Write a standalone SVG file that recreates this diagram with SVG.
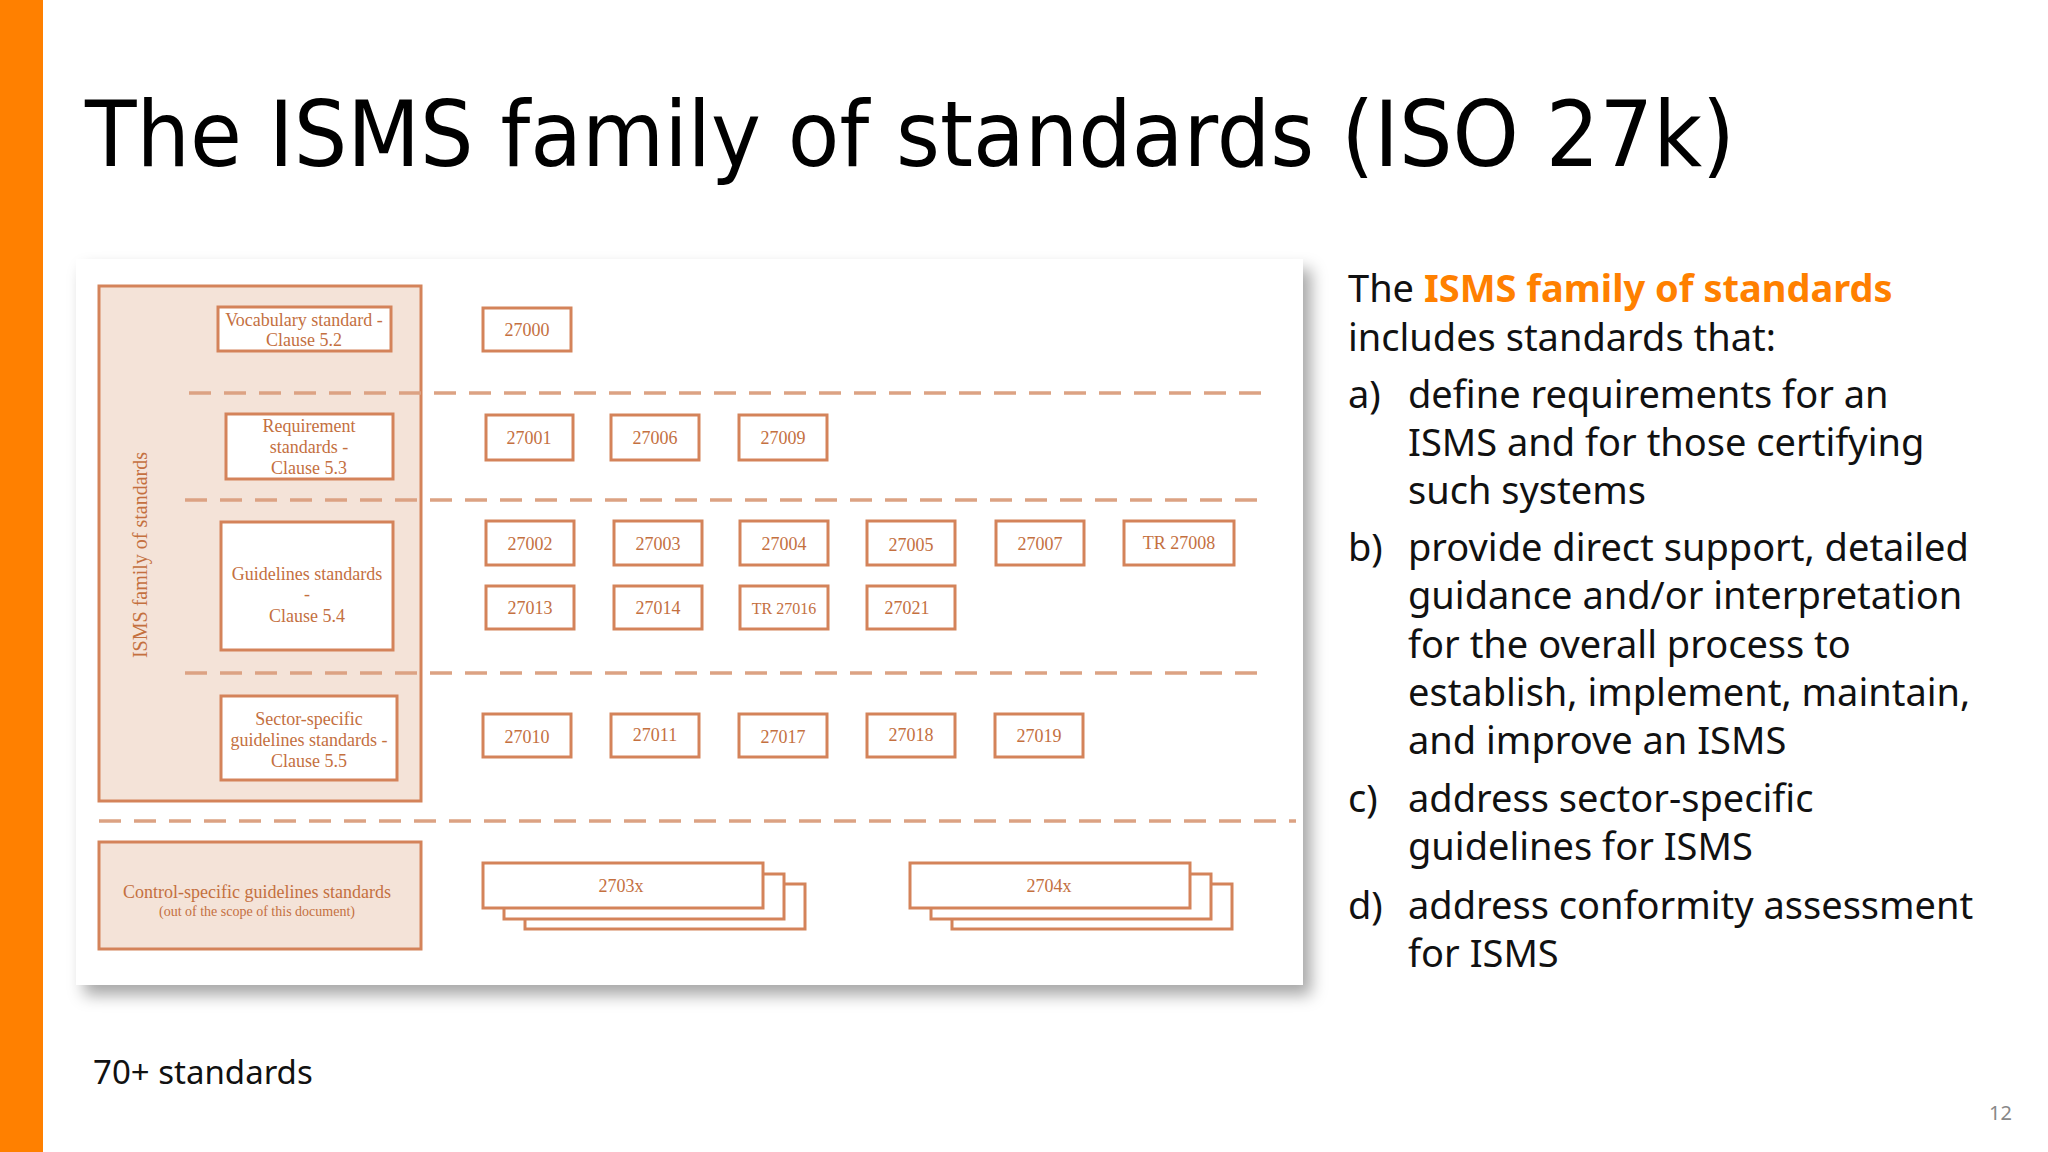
<svg xmlns="http://www.w3.org/2000/svg" width="2048" height="1152" viewBox="0 0 2048 1152">
<defs>
<filter id="sh" x="-5%" y="-5%" width="112%" height="115%"><feDropShadow dx="8" dy="10" stdDeviation="8" flood-color="#000" flood-opacity="0.35"/></filter>
<style>
.b{fill:#fff;stroke:#d4835a;stroke-width:3}
.p{fill:#f4e3d8;stroke:#d4835a;stroke-width:3}
.t{font-family:"Liberation Serif",serif;font-size:18px;fill:#c4703f;text-anchor:middle}
.d{stroke:#dca283;stroke-width:3.5;stroke-dasharray:22 13;fill:none}
.r{font-family:"Noto Sans",sans-serif;font-size:38px;fill:#111}
</style>
</defs>
<rect width="2048" height="1152" fill="#fff"/>
<rect width="43" height="1152" fill="#ff8000"/>
<text x="85" y="166" font-family="DejaVu Sans,sans-serif" font-size="90" fill="#000" textLength="1650" lengthAdjust="spacingAndGlyphs">The ISMS family of standards (ISO 27k)</text>
<rect x="76" y="259" width="1227" height="726" fill="#fff" filter="url(#sh)"/>
<g id="family"><rect class="p" x="99" y="286" width="322" height="515"/>
<text class="t" transform="translate(147,555) rotate(-90)" style="font-size:20px">ISMS family of standards</text></g>
<g id="connectors">
<path class="d" d="M189 393H1269M185 500H1264M185 673H1264M99 821H1296"/>
</g>
<g id="vocab"><rect class="b" x="218" y="307" width="173" height="44"/><text class="t" x="304" y="326">Vocabulary standard -</text><text class="t" x="304" y="346">Clause 5.2</text></g>
<g id="req"><rect class="b" x="226" y="414" width="167" height="65"/><text class="t" x="309" y="432">Requirement</text><text class="t" x="309" y="453">standards -</text><text class="t" x="309" y="474">Clause 5.3</text></g>
<g id="guide"><rect class="b" x="221" y="522" width="172" height="128"/><text class="t" x="307" y="580">Guidelines standards</text><text class="t" x="307" y="600">-</text><text class="t" x="307" y="622">Clause 5.4</text></g>
<g id="sector"><rect class="b" x="221" y="696" width="176" height="84"/><text class="t" x="309" y="725">Sector-specific</text><text class="t" x="309" y="746">guidelines standards -</text><text class="t" x="309" y="767">Clause 5.5</text></g>
<g id="control"><rect class="p" x="99" y="842" width="322" height="107"/><text class="t" x="257" y="898">Control-specific guidelines standards</text><text class="t" x="257" y="916" style="font-size:14px">(out of the scope of this document)</text></g>
<g id="n27000"><rect class="b" x="483" y="308" width="88" height="43"/><text class="t" x="527" y="336">27000</text></g>
<g id="n27001"><rect class="b" x="486" y="415" width="87" height="45"/><text class="t" x="529" y="444">27001</text></g>
<g id="n27006"><rect class="b" x="611" y="415" width="88" height="45"/><text class="t" x="655" y="444">27006</text></g>
<g id="n27009"><rect class="b" x="739" y="415" width="88" height="45"/><text class="t" x="783" y="444">27009</text></g>
<g id="n27002"><rect class="b" x="486" y="521" width="88" height="44"/><text class="t" x="530" y="550">27002</text></g>
<g id="n27003"><rect class="b" x="614" y="521" width="88" height="44"/><text class="t" x="658" y="550">27003</text></g>
<g id="n27004"><rect class="b" x="740" y="521" width="88" height="44"/><text class="t" x="784" y="550">27004</text></g>
<g id="n27005"><rect class="b" x="867" y="521" width="88" height="44"/><text class="t" x="911" y="551">27005</text></g>
<g id="n27007"><rect class="b" x="996" y="521" width="88" height="44"/><text class="t" x="1040" y="550">27007</text></g>
<g id="n27008"><rect class="b" x="1124" y="521" width="110" height="44"/><text class="t" x="1179" y="549">TR 27008</text></g>
<g id="n27013"><rect class="b" x="486" y="586" width="88" height="43"/><text class="t" x="530" y="614">27013</text></g>
<g id="n27014"><rect class="b" x="614" y="586" width="88" height="43"/><text class="t" x="658" y="614">27014</text></g>
<g id="n27016"><rect class="b" x="740" y="586" width="88" height="43"/><text class="t" x="784" y="614" style="font-size:16px">TR 27016</text></g>
<g id="n27021"><rect class="b" x="867" y="586" width="88" height="43"/><text class="t" x="907" y="614">27021</text></g>
<g id="n27010"><rect class="b" x="483" y="714" width="88" height="43"/><text class="t" x="527" y="743">27010</text></g>
<g id="n27011"><rect class="b" x="611" y="714" width="88" height="43"/><text class="t" x="655" y="741">27011</text></g>
<g id="n27017"><rect class="b" x="739" y="714" width="88" height="43"/><text class="t" x="783" y="743">27017</text></g>
<g id="n27018"><rect class="b" x="867" y="714" width="88" height="43"/><text class="t" x="911" y="741">27018</text></g>
<g id="n27019"><rect class="b" x="995" y="714" width="88" height="43"/><text class="t" x="1039" y="742">27019</text></g>
<g id="n2703x"><rect class="b" x="525" y="884" width="280" height="45"/><rect class="b" x="504" y="874" width="280" height="45"/><rect class="b" x="483" y="863" width="280" height="45"/><text class="t" x="621" y="892">2703x</text></g>
<g id="n2704x"><rect class="b" x="952" y="884" width="280" height="45"/><rect class="b" x="931" y="874" width="280" height="45"/><rect class="b" x="910" y="863" width="280" height="45"/><text class="t" x="1049" y="892">2704x</text></g>
<g id="righttext">
<text class="r" x="1348" y="302">The <tspan fill="#ff8000" font-weight="bold">ISMS family of standards</tspan></text>
<text class="r" x="1348" y="351">includes standards that:</text>
<text class="r" x="1348" y="408">a)</text><text class="r" x="1408" y="408">define requirements for an</text>
<text class="r" x="1408" y="456">ISMS and for those certifying</text>
<text class="r" x="1408" y="504">such systems</text>
<text class="r" x="1348" y="561">b)</text><text class="r" x="1408" y="561">provide direct support, detailed</text>
<text class="r" x="1408" y="609">guidance and/or interpretation</text>
<text class="r" x="1408" y="658">for the overall process to</text>
<text class="r" x="1408" y="706">establish, implement, maintain,</text>
<text class="r" x="1408" y="754">and improve an ISMS</text>
<text class="r" x="1348" y="812">c)</text><text class="r" x="1408" y="812">address sector-specific</text>
<text class="r" x="1408" y="860">guidelines for ISMS</text>
<text class="r" x="1348" y="919">d)</text><text class="r" x="1408" y="919">address conformity assessment</text>
<text class="r" x="1408" y="967">for ISMS</text>
</g>
<text x="93" y="1084" font-family="Noto Sans,sans-serif" font-size="33" fill="#111">70+ standards</text>
<text x="2012" y="1120" font-family="Noto Sans,sans-serif" font-size="20" fill="#888" text-anchor="end">12</text>
</svg>
